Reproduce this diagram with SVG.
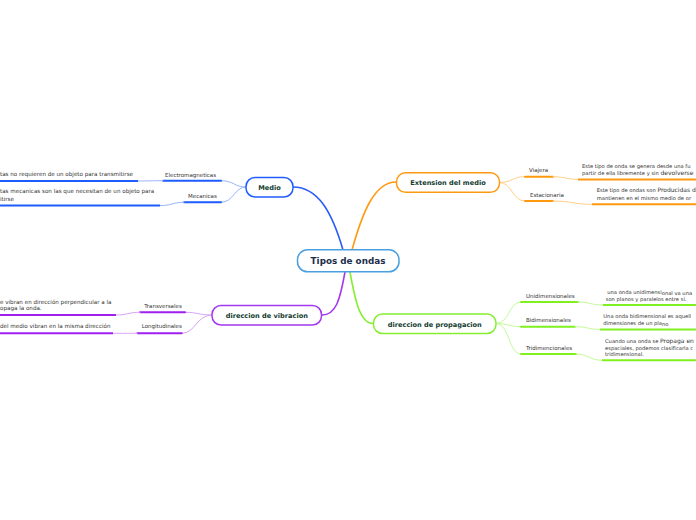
<svg xmlns="http://www.w3.org/2000/svg" width="696" height="520" viewBox="0 0 696 520">
<style>
.node{fill:#ffffff;stroke-width:1.5}
.nt{font-family:"DejaVu Sans","Liberation Sans",sans-serif;font-weight:bold;font-size:6.6px;fill:#143c30;text-anchor:middle}
.ct{font-family:"DejaVu Sans","Liberation Sans",sans-serif;font-weight:bold;font-size:8.8px;fill:#1b2d4b;text-anchor:middle}
.lb{font-family:"DejaVu Sans","Liberation Sans",sans-serif;font-size:5.5px;fill:#333333}
.ds{font-family:"DejaVu Sans","Liberation Sans",sans-serif;font-size:5.6px;fill:#333333}
.dr{font-family:"DejaVu Sans","Liberation Sans",sans-serif;font-size:5.2px;fill:#333333}
.big{font-size:6px}
.c{fill:none;stroke-linecap:round}
.heavy{stroke-width:2}
.thin{stroke-width:1}
</style>
<rect width="696" height="520" fill="#ffffff"/>
<g id="connectors">
  <path class="c" d="M343,250 C332,212 318,187 293,187" stroke="#2a5cf8" stroke-width="1.6"/>
  <path class="c" d="M352,250 C362,214 374,182 396,182" stroke="#ff9a10" stroke-width="1.6"/>
  <path class="c" d="M345,272 C340,300 336,315 322,315" stroke="#a438f0" stroke-width="1.6"/>
  <path class="c" d="M350,272 C355,300 360,323.5 373,323.5" stroke="#86ee30" stroke-width="1.6"/>
  <path class="c thin" d="M246,187 C234,187 234,180.7 221,180.7" stroke="#9ab4ff"/>
  <path class="c thin" d="M246,187 C234,187 234,202.3 221,202.3" stroke="#9ab4ff"/>
  <path class="c heavy" d="M163,180.7 H221" stroke="#1f5cff"/>
  <path class="c heavy" d="M184,202.3 H221" stroke="#1f5cff"/>
  <path class="c thin" d="M163,180.7 C150,180.7 150,181 138,181" stroke="#9ab4ff"/>
  <path class="c thin" d="M184,202.3 C172,202.3 172,205.6 160,205.6" stroke="#9ab4ff"/>
  <path class="heavy" d="M0,181 H138" stroke="#1f5cff" fill="none"/>
  <path class="heavy" d="M0,205.6 H160" stroke="#1f5cff" fill="none"/>
  <path class="c thin" d="M500,182.5 C512,182.5 512,176.7 525,176.7" stroke="#ffcf88"/>
  <path class="c thin" d="M500,182.5 C512,182.5 512,201 525,201" stroke="#ffcf88"/>
  <path class="c heavy" d="M525,176.7 H553" stroke="#ff9a10"/>
  <path class="c heavy" d="M525,201 H553" stroke="#ff9a10"/>
  <path class="c thin" d="M553,176.7 C566,176.7 566,179.4 578,179.4" stroke="#ffcf88"/>
  <path class="c thin" d="M553,201 C572,201 572,204.3 592,204.3" stroke="#ffcf88"/>
  <path class="heavy" d="M578,179.4 H696" stroke="#ff9a10" fill="none"/>
  <path class="heavy" d="M592,204.3 H696" stroke="#ff9a10" fill="none"/>
  <path class="c thin" d="M496,323.5 C510,323.5 508,302 521,302" stroke="#c4fa98"/>
  <path class="c thin" d="M496,323.5 C510,323.5 508,326.7 521,326.7" stroke="#c4fa98"/>
  <path class="c thin" d="M496,323.5 C510,323.5 508,354 521,354" stroke="#c4fa98"/>
  <path class="c heavy" d="M521,302 H578" stroke="#80f020"/>
  <path class="c heavy" d="M521,326.7 H575" stroke="#80f020"/>
  <path class="c heavy" d="M521,354 H576" stroke="#80f020"/>
  <path class="c thin" d="M578,302 C590,302 590,305 603,305" stroke="#c4fa98"/>
  <path class="c thin" d="M575,326.7 C588,326.7 588,329.4 600,329.4" stroke="#c4fa98"/>
  <path class="c thin" d="M576,354 C589,354 589,360.3 602,360.3" stroke="#c4fa98"/>
  <path class="heavy" d="M603,305 H696" stroke="#80f020" fill="none"/>
  <path class="heavy" d="M600,329.4 H696" stroke="#80f020" fill="none"/>
  <path class="heavy" d="M602,360.3 H696" stroke="#80f020" fill="none"/>
  <path class="c thin" d="M212,315 C198,315 198,312.3 185,312.3" stroke="#d8a4f8"/>
  <path class="c thin" d="M212,315 C196,315 196,333.3 181.7,333.3" stroke="#d8a4f8"/>
  <path class="c heavy" d="M140,312.3 H185" stroke="#a020f0"/>
  <path class="c heavy" d="M137.3,333.3 H181.7" stroke="#a020f0"/>
  <path class="c thin" d="M140,312.3 C128,312.3 128,315 116,315" stroke="#d8a4f8"/>
  <path class="c thin" d="M137.3,333.3 C125,333.3 125,333.3 113,333.3" stroke="#d8a4f8"/>
  <path class="heavy" d="M0,315 H116" stroke="#a020f0" fill="none"/>
  <path class="heavy" d="M0,333.3 H113" stroke="#a020f0" fill="none"/>
</g>
<g id="center">
  <rect class="node" x="297.5" y="249.8" width="101.5" height="22" rx="10" stroke="#4a9fe0"/>
  <text class="ct" x="348" y="264">Tipos de ondas</text>
</g>
<g id="medio">
  <rect class="node" x="246" y="177.5" width="47" height="19.5" rx="9" stroke="#1f5cff"/>
  <text class="nt" x="269.5" y="190">Medio</text>
</g>
<g id="extension">
  <rect class="node" x="396.5" y="172.8" width="103" height="19.5" rx="9" stroke="#ff9a10"/>
  <text class="nt" x="448" y="185">Extension del medio</text>
</g>
<g id="vibracion">
  <rect class="node" x="212" y="305.5" width="109.5" height="19.5" rx="9" stroke="#a438f0"/>
  <text class="nt" x="266.8" y="318">direccion de vibracion</text>
</g>
<g id="propagacion">
  <rect class="node" x="373.5" y="314" width="122.5" height="19.5" rx="9" stroke="#86ee30"/>
  <text class="nt" x="434.8" y="326.5">direccion de propagacion</text>
</g>
<g id="electromagneticas">
  <text class="lb" x="165" y="176.5">Electromagneticas</text>
  <text class="ds" x="0" y="176">tas no requieren de un objeto para transmitirse</text>
</g>
<g id="mecanicas">
  <text class="lb" x="188" y="198">Mecanicas</text>
  <text class="ds" x="0" y="193">tas mecanicas son las que necesitan de un objeto para</text>
  <text class="ds" x="0" y="200.5">itirse</text>
</g>
<g id="viajera">
  <text class="lb" x="529" y="172">Viajera</text>
  <text class="dr" x="582" y="168">Este tipo de onda se genera desde una fu</text>
  <text class="dr" x="582" y="174.5">partir de ella libremente y sin <tspan class="big" dy="0.6">devolverse</tspan></text>
</g>
<g id="estacionaria">
  <text class="lb" x="530" y="196.5">Estacionaria</text>
  <text class="dr" x="596.7" y="192">Este tipo de ondas son <tspan class="big" dy="0.3">Producidas d</tspan></text>
  <text class="dr" x="596.7" y="199.5">mantienen en el mismo medio de or</text>
</g>
<g id="unidimensionales">
  <text class="lb" x="526" y="297.5">Unidimensionales</text>
  <text class="dr" x="607.3" y="293.5">una onda unidimensi<tspan dy="1.2">onal va una</tspan></text>
  <text class="dr" x="605.7" y="301">son planos y paralelos entre sí.</text>
</g>
<g id="bidimensionales">
  <text class="lb" x="526" y="322">Bidimensionales</text>
  <text class="dr" x="603.3" y="317.5">Una onda bidimensional es aquell</text>
  <text class="dr" x="603.3" y="324.5">dimensiones de un pla<tspan dy="1.5">no</tspan></text>
</g>
<g id="tridimencionales">
  <text class="lb" x="526" y="349.5">Tridimencionales</text>
  <text class="dr" x="605" y="342.5">Cuando una onda se <tspan class="big" dy="0.6">Propaga en</tspan></text>
  <text class="dr" x="605" y="349.5">espaciales, podemos clasificarla c</text>
  <text class="dr" x="605" y="355.5">tridimensional.</text>
</g>
<g id="transversales">
  <text class="lb" x="144.3" y="307.5">Transversales</text>
  <text class="ds" x="0" y="303.5">e vibran en dirección perpendicular a la</text>
  <text class="ds" x="0" y="309.5">opaga la onda.</text>
</g>
<g id="longitudinales">
  <text class="lb" x="141.7" y="328.3">Longitudinales</text>
  <text class="ds" x="0" y="327.5">del medio vibran en la misma dirección</text>
</g>
</svg>
